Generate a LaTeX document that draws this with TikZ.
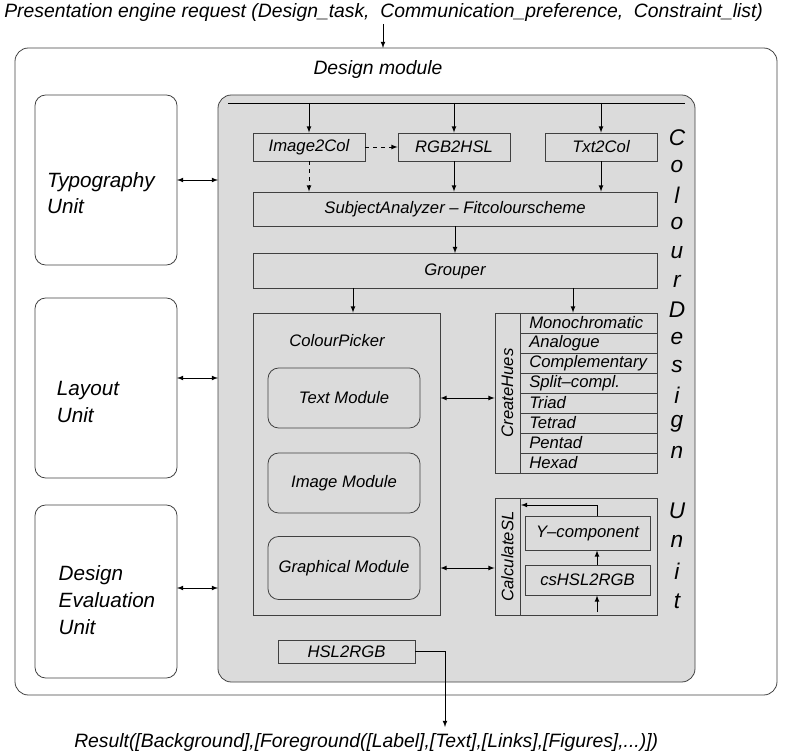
\documentclass[tikz,border=0pt]{standalone}
\usepackage{fontspec}
\setmainfont{Liberation Sans}
\begin{document}
\begin{tikzpicture}[x=0.75pt,y=-0.75pt,
  bx/.style={draw=black!75,line width=0.6pt},
  lbl/.style={font=\itshape\fontsize{14.5}{16}\selectfont},
  sm/.style={font=\itshape\fontsize{12.5}{13}\selectfont},
  un/.style={align=left,font=\itshape\fontsize{15.5}{20}\selectfont},
  ar/.style={-latex,line width=0.6pt},
  dar/.style={latex-latex,line width=0.6pt}]
\useasboundingbox (0,0) rectangle (811,756);
\node[lbl,anchor=west,inner sep=0pt] (req) at (4,13) {Presentation engine request (Design\_task,\ \ Communication\_preference,\ \ Constraint\_list)};
\draw[bx,rounded corners=10pt] (15,48) rectangle (777,695);
\coordinate (reqin) at (383,48);
\draw[ar] (383,24) -- (reqin);
\node[lbl] (dm) at (378,70) {Design module};
% units
\draw[bx,rounded corners=8pt] (35,95) rectangle (177,265);
\node[un] (typ) at (101,193) {Typography\\Unit};
\draw[bx,rounded corners=8pt] (35,298) rectangle (177,478);
\node[un] (lay) at (88,402) {Layout\\Unit};
\draw[bx,rounded corners=8pt] (35,505) rectangle (177,678);
\node[un] (dev) at (107,600) {Design\\Evaluation\\Unit};
% gray
\draw[bx,fill=black!14,rounded corners=10pt] (218,95) rectangle (695,682);
\draw[line width=0.6pt] (228,103) -- (685,103);
\draw[dar] (177,180) -- (218,180);
\draw[dar] (177,378) -- (218,378);
\draw[dar] (177,588) -- (218,588);
% top boxes
\node[bx,sm,minimum width=112*0.75pt,minimum height=28*0.75pt] (i2c) at (309,147) {Image2Col};
\node[bx,sm,minimum width=112*0.75pt,minimum height=28*0.75pt] (rgb) at (454,147) {RGB2HSL};
\node[bx,sm,minimum width=112*0.75pt,minimum height=28*0.75pt] (txt) at (601,147) {Txt2Col};
\draw[ar] (309,103) -- (i2c.north);
\draw[ar] (454,103) -- (rgb.north);
\draw[ar] (601,103) -- (txt.north);
\draw[ar,dashed] (i2c) -- (rgb);
\node[bx,sm,minimum width=404*0.75pt,minimum height=34*0.75pt] (sub) at (455,209) {SubjectAnalyzer -- Fitcolourscheme};
\draw[ar,dashed] (i2c.south) -- (i2c.south|-sub.north);
\draw[ar] (rgb.south) -- (rgb.south|-sub.north);
\draw[ar] (txt.south) -- (txt.south|-sub.north);
\node[bx,sm,minimum width=404*0.75pt,minimum height=35*0.75pt] (grp) at (455,271) {Grouper};
\draw[ar] (sub) -- (grp);
% ColourPicker
\node[bx,minimum width=187*0.75pt,minimum height=302*0.75pt] (cp) at (346.5,464) {};
\node[sm] (cpl) at (337,341) {ColourPicker};
\node[bx,sm,rounded corners=8pt,minimum width=152*0.75pt,minimum height=60*0.75pt] (tm) at (344,398) {Text Module};
\node[bx,sm,rounded corners=8pt,minimum width=152*0.75pt,minimum height=60*0.75pt] (im) at (344,483) {Image Module};
\node[bx,sm,rounded corners=8pt,minimum width=152*0.75pt,minimum height=63*0.75pt] (gm) at (344,568) {Graphical Module};
% CreateHues
\node[bx,minimum width=162*0.75pt,minimum height=160*0.75pt] (ch) at (576,393) {};
\draw[bx] (520,313) -- (520,473);
\node[sm,rotate=90] (chl) at (507.5,393) {CreateHues};
\foreach \t [count=\i] in {Monochromatic,Analogue,Complementary,Split--compl.,Triad,Tetrad,Pentad,Hexad}{
  \node[sm,anchor=west,inner sep=0pt] (h\i) at (529,313+20*\i-10) {\t};
  \ifnum\i<8 \draw[bx] (520,313+20*\i) -- (657,313+20*\i);\fi
}
\draw[ar] (353,288) -- (cp.north-|353,0);
\draw[ar] (573,288) -- (ch.north-|573,0);
% CalculateSL
\node[bx,minimum width=162*0.75pt,minimum height=117*0.75pt] (cs) at (576,556.5) {};
\draw[bx] (520,498) -- (520,615);
\node[sm,rotate=90] (csl) at (507.5,556.5) {CalculateSL};
\node[bx,sm,minimum width=125*0.75pt,minimum height=34*0.75pt] (yc) at (587.5,533) {Y--component};
\node[bx,sm,minimum width=125*0.75pt,minimum height=30*0.75pt] (hs) at (587.5,580) {csHSL2RGB};
\coordinate (cb) at (597,612);
\draw[ar] (cb) -- (hs.south-|cb);
\draw[ar] (hs.north-|cb) -- (yc.south-|cb);
\coordinate (ct) at (597,505);
\coordinate (cl) at (521,505);
\draw[ar] (yc.north-|ct) -- (ct) -- (cl);
\draw[dar] (cp.east|-tm) -- (ch.west|-tm);
\draw[dar] (cp.east|-gm) -- (cs.west|-gm);
% HSL2RGB
\node[bx,sm,minimum width=137*0.75pt,minimum height=23*0.75pt] (h2r) at (346.5,651.5) {HSL2RGB};
\coordinate (res) at (445,727);
\draw[ar] (h2r.east) -- (445,651.5) -- (res);
\node[lbl,anchor=west,inner sep=0pt] (rt) at (74,742) {Result([Background],[Foreground([Label],[Text],[Links],[Figures],...)])};
% vertical title
\foreach \l [count=\i] in {C,o,l,o,u,r,D,e,s,i,g,n}{
  \node[font=\itshape\fontsize{17}{18}\selectfont] (v\i) at (677,138+28.6*\i-28.6) {\l};}
\foreach \l [count=\i] in {U,n,i,t}{
  \node[font=\itshape\fontsize{17}{18}\selectfont] (w\i) at (677,511+30*\i-30) {\l};}
\end{tikzpicture}
\end{document}
